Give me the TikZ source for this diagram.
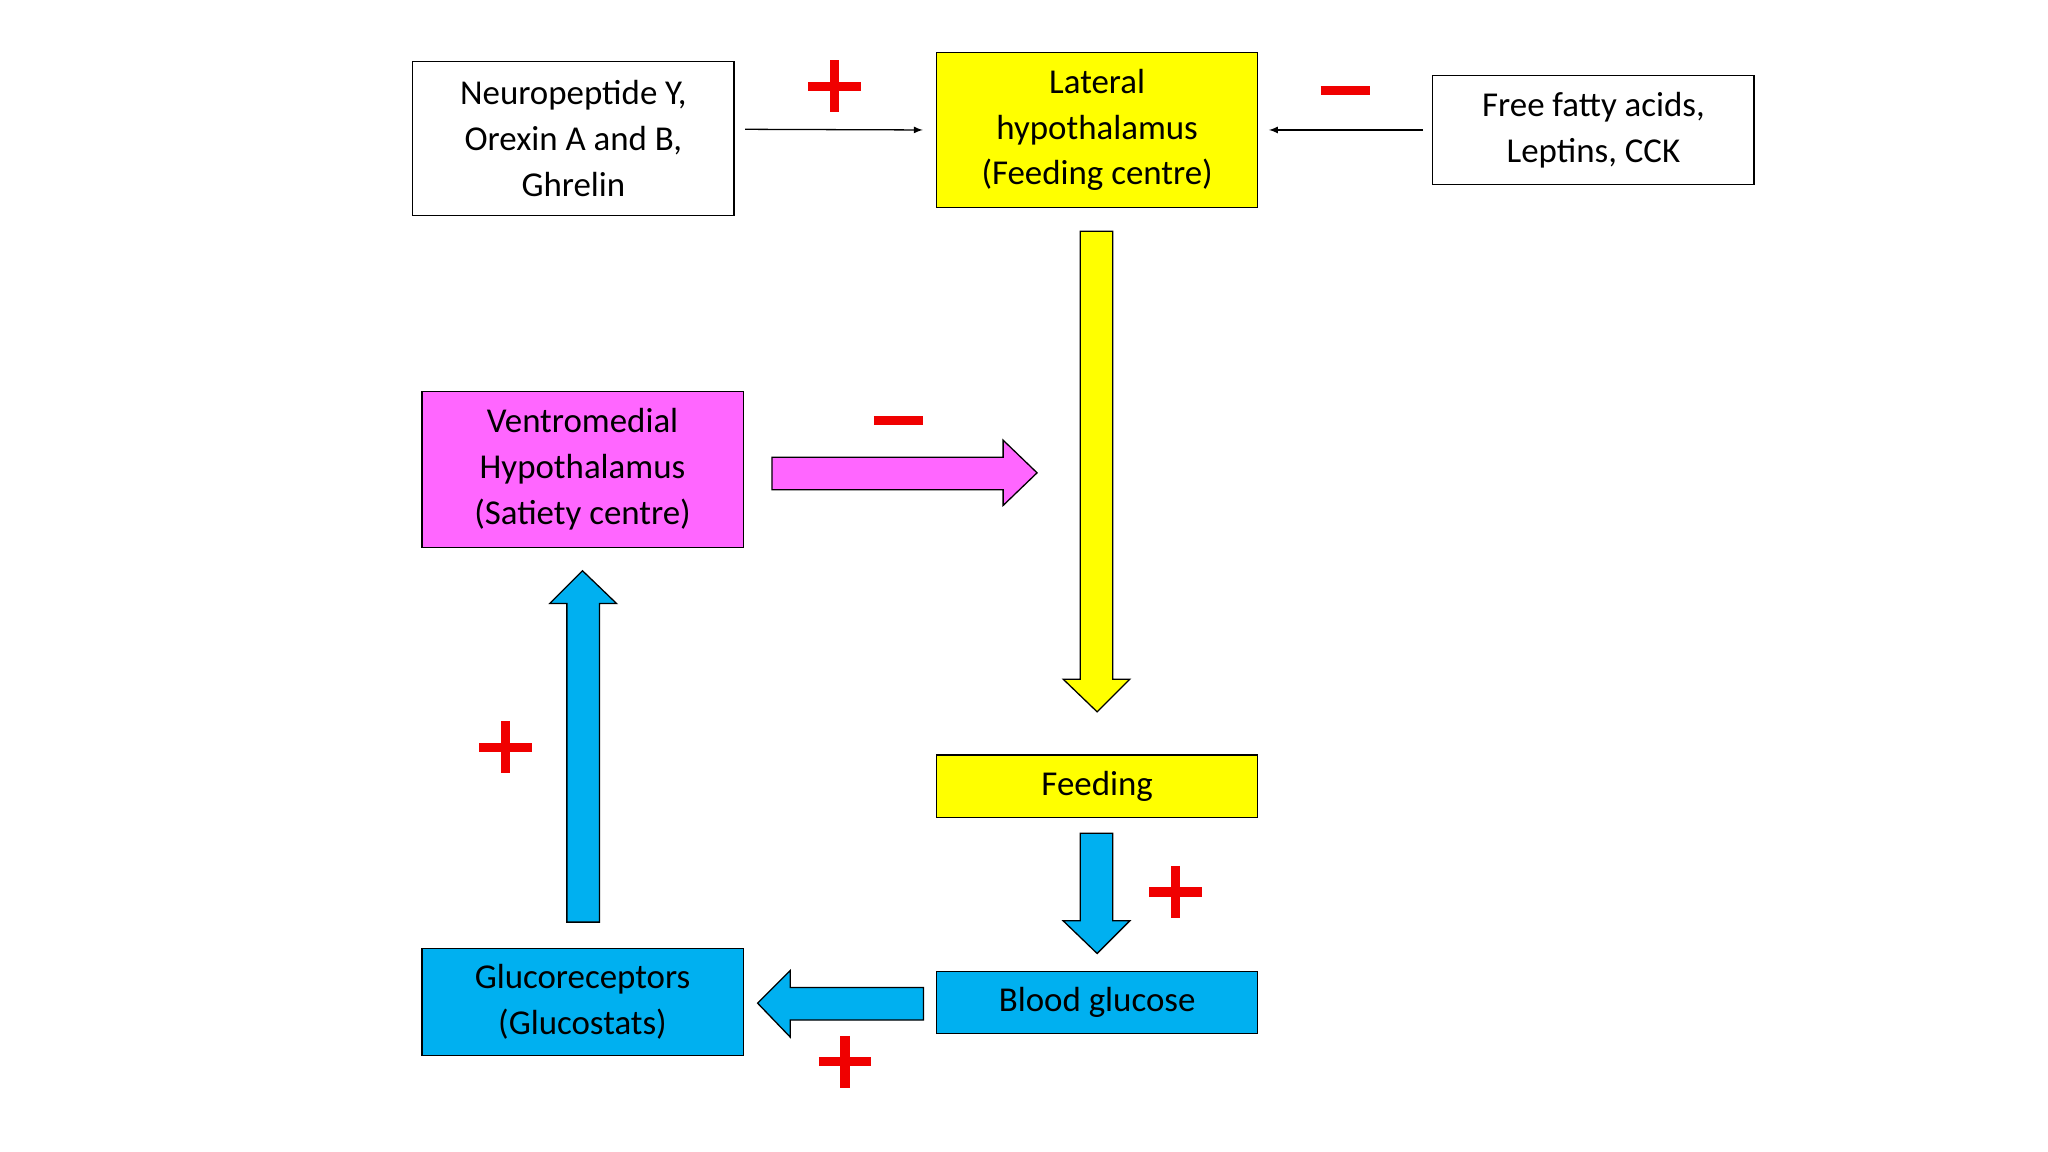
\documentclass[tikz,border=0pt]{standalone}
\usepackage{fontspec}
\setmainfont{Carlito}
\definecolor{ylw}{HTML}{FFFF00}
\definecolor{mag}{HTML}{FF66FF}
\definecolor{cyn}{HTML}{00B0F0}
\definecolor{sgn}{HTML}{F00000}
\begin{document}
\begin{tikzpicture}[x=0.025cm,y=-0.025cm,
  box/.style={draw,line width=0.7pt,minimum width=246*0.025cm,align=center,font=\fontsize{19}{25}\selectfont,inner sep=0pt},
  blk/.style={draw,line width=0.7pt},
  sg/.style={sgn,line width=5pt}]
\useasboundingbox (0,0) rectangle (1568,882);
\node[box,minimum height=118*0.025cm] (npy) at (439,106) {Neuropeptide Y,\\Orexin A and B,\\Ghrelin};
\node[box,fill=ylw,minimum height=119*0.025cm] (lh) at (840,99.5) {Lateral\\hypothalamus\\(Feeding centre)};
\node[box,minimum height=83*0.025cm] (ffa) at (1220,99.5) {Free fatty acids,\\Leptins, CCK};
\node[box,fill=mag,minimum height=119*0.025cm] (vmh) at (446,359.5) {Ventromedial\\Hypothalamus\\(Satiety centre)};
\node[box,fill=ylw,minimum height=48*0.025cm] (feed) at (840,602) {Feeding};
\node[box,fill=cyn,minimum height=47*0.025cm] (bg) at (840,767.5) {Blood glucose};
\node[box,fill=cyn,minimum height=82*0.025cm] (gr) at (446,767) {Glucoreceptors\\(Glucostats)};
\draw[-latex,line width=0.7pt] (npy.east)++(8,-7) -- ([xshift=-10*0.025cm]lh.west);
\draw[-latex,line width=0.7pt] (ffa.west)++(-7,0) -- ([xshift=8*0.025cm]lh.east);
% block arrows
\draw[blk,fill=ylw] (827,177)--(852,177)--(852,520)--(865,520)--(840,545)--(814,520)--(827,520)--cycle;
\draw[blk,fill=mag] (591,350)--(768,350)--(768,337)--(794,362)--(768,387)--(768,375)--(591,375)--cycle;
\draw[blk,fill=cyn] (434,706)--(459,706)--(459,462)--(472,462)--(446,437)--(421,462)--(434,462)--cycle;
\draw[blk,fill=cyn] (827,638)--(852,638)--(852,705)--(865,705)--(840,730)--(814,705)--(827,705)--cycle;
\draw[blk,fill=cyn] (707,756)--(605,756)--(605,743)--(580,768)--(605,794)--(605,781)--(707,781)--cycle;
% signs
\foreach \x/\y in {639/66,387/572,900/683,647/813}{
  \draw[sg] (\x-20,\y)--(\x+20,\y); \draw[sg] (\x,\y-20)--(\x,\y+20);}
\foreach \x/\y in {1030/69,688/322}{\draw[sg] (\x-19,\y)--(\x+19,\y);}
\end{tikzpicture}
\end{document}
